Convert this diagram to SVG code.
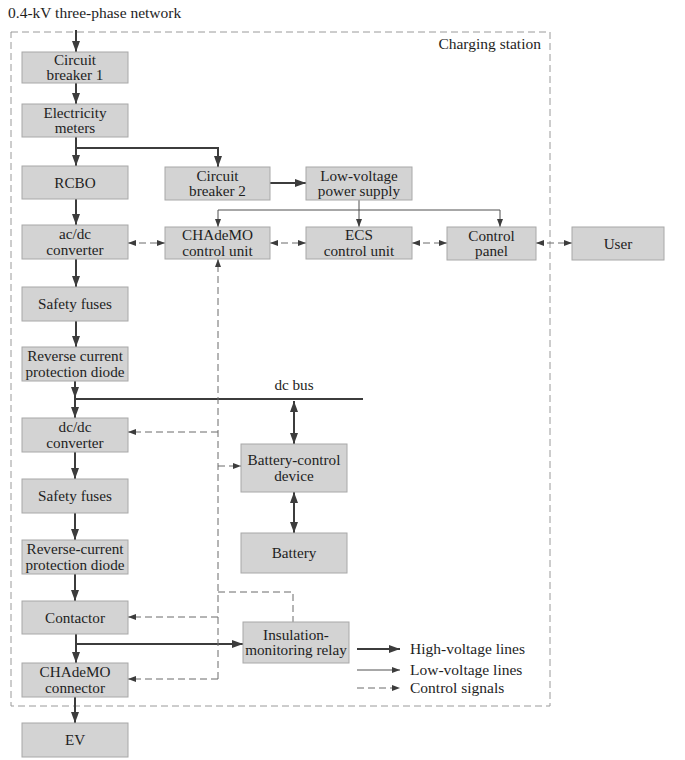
<svg xmlns="http://www.w3.org/2000/svg" width="685" height="760" viewBox="0 0 685 760">
<style>
.box{fill:#d3d3d3;stroke:#a8a8a8;stroke-width:1}
.t{font-family:"Liberation Serif","Times New Roman",serif;font-size:15.2px;fill:#1e1e1e;text-anchor:middle}
.tl{font-family:"Liberation Serif","Times New Roman",serif;font-size:15.5px;fill:#1e1e1e}
.hv{stroke:#3c3c3c;stroke-width:2;fill:none}
.hva{stroke:#3c3c3c;stroke-width:2;fill:none;marker-end:url(#ah)}
.hvb{stroke:#3c3c3c;stroke-width:2;fill:none;marker-end:url(#ah);marker-start:url(#ah)}
.lv{stroke:#505050;stroke-width:1;fill:none}
.lva{stroke:#505050;stroke-width:1;fill:none;marker-end:url(#as)}
.cs{stroke:#6a6a6a;stroke-width:1;fill:none;stroke-dasharray:7,4}
.csa{stroke:#6a6a6a;stroke-width:1;fill:none;stroke-dasharray:7,4;marker-end:url(#as)}
.csb{stroke:#6a6a6a;stroke-width:1;fill:none;stroke-dasharray:7,4;marker-end:url(#as);marker-start:url(#as)}
</style>
<defs>
<marker id="ah" markerUnits="userSpaceOnUse" markerWidth="11" markerHeight="8" refX="11" refY="4" orient="auto-start-reverse"><path d="M0,0 L11,4 L0,8 z" fill="#3c3c3c"/></marker>
<marker id="as" markerUnits="userSpaceOnUse" markerWidth="8" markerHeight="6" refX="8" refY="3" orient="auto-start-reverse"><path d="M0,0 L8,3 L0,6 z" fill="#3c3c3c"/></marker>
</defs>
<rect width="685" height="760" fill="#ffffff"/>
<text class="tl" x="8" y="18">0.4-kV three-phase network</text>
<g id="station">
<rect x="11" y="32" width="539" height="674" fill="none" stroke="#9a9a9a" stroke-width="1" stroke-dasharray="7,4"/>
<text class="tl" x="541" y="49" text-anchor="end">Charging station</text>
</g>
<g id="connectors">
<line class="hva" x1="76" y1="30" x2="76" y2="52"/>
<line class="hva" x1="76" y1="83" x2="76" y2="104"/>
<line class="hva" x1="76" y1="137" x2="76" y2="166"/>
<polyline class="hva" points="76,148 218,148 218,167"/>
<line class="hva" x1="76" y1="199" x2="76" y2="225"/>
<line class="hva" x1="76" y1="259" x2="76" y2="287"/>
<line class="hva" x1="76" y1="321" x2="76" y2="347"/>
<line class="hva" x1="75" y1="381" x2="75" y2="398"/>
<line class="hv" x1="74" y1="399" x2="363" y2="399" stroke-width="3"/>
<line class="hva" x1="75" y1="400" x2="75" y2="418"/>
<line class="hva" x1="75" y1="452" x2="75" y2="479"/>
<line class="hva" x1="75" y1="513" x2="75" y2="540"/>
<line class="hva" x1="75" y1="574" x2="75" y2="601"/>
<line class="hva" x1="76" y1="634" x2="76" y2="663"/>
<line class="hva" x1="76" y1="644" x2="243" y2="644"/>
<line class="hva" x1="75" y1="697" x2="75" y2="723"/>
<line class="hva" x1="270" y1="183" x2="306" y2="183"/>
<line class="hvb" x1="294" y1="401" x2="294" y2="444"/>
<line class="hvb" x1="294" y1="492" x2="294" y2="533"/>
<line class="lva" x1="359" y1="200" x2="359" y2="227"/>
<polyline class="lva" points="359,210 218,210 218,227"/>
<polyline class="lva" points="359,210 500,210 500,227"/>
<line class="csb" x1="128" y1="243" x2="165" y2="243"/>
<line class="csb" x1="270" y1="243" x2="306" y2="243"/>
<line class="csb" x1="412" y1="243" x2="447" y2="243"/>
<line class="csb" x1="536" y1="243" x2="572" y2="243"/>
<line class="csa" x1="218" y1="679" x2="218" y2="259"/>
<line class="csa" x1="218" y1="432" x2="128" y2="432"/>
<line class="csa" x1="218" y1="466" x2="241" y2="466"/>
<line class="csa" x1="218" y1="617" x2="128" y2="617"/>
<line class="csa" x1="218" y1="679" x2="128" y2="679"/>
<polyline class="cs" points="218,592 293,592 293,622"/>
</g>
<g id="cb1"><rect class="box" x="22" y="52" width="106" height="31"/><text class="t" x="75" y="64.9">Circuit</text><text class="t" x="75" y="80.4">breaker 1</text></g>
<g id="meters"><rect class="box" x="22" y="104" width="106" height="33"/><text class="t" x="75" y="117.9">Electricity</text><text class="t" x="75" y="133.4">meters</text></g>
<g id="rcbo"><rect class="box" x="22" y="166" width="106" height="33"/><text class="t" x="75" y="187.5">RCBO</text></g>
<g id="acdc"><rect class="box" x="22" y="225" width="106" height="34"/><text class="t" x="75" y="239.4">ac/dc</text><text class="t" x="75" y="254.9">converter</text></g>
<g id="fuses1"><rect class="box" x="22" y="287" width="106" height="34"/><text class="t" x="75" y="309">Safety fuses</text></g>
<g id="diode1"><rect class="box" x="22" y="347" width="106" height="34"/><text class="t" x="75" y="361.4">Reverse current</text><text class="t" x="75" y="376.9">protection diode</text></g>
<g id="dcdc"><rect class="box" x="22" y="418" width="106" height="34"/><text class="t" x="75" y="432.4">dc/dc</text><text class="t" x="75" y="447.9">converter</text></g>
<g id="fuses2"><rect class="box" x="22" y="479" width="106" height="34"/><text class="t" x="75" y="501">Safety fuses</text></g>
<g id="diode2"><rect class="box" x="22" y="540" width="106" height="34"/><text class="t" x="75" y="554.4">Reverse-current</text><text class="t" x="75" y="569.9">protection diode</text></g>
<g id="contactor"><rect class="box" x="22" y="601" width="106" height="33"/><text class="t" x="75" y="622.5">Contactor</text></g>
<g id="connector"><rect class="box" x="22" y="663" width="106" height="34"/><text class="t" x="75" y="677.4">CHAdeMO</text><text class="t" x="75" y="692.9">connector</text></g>
<g id="ev"><rect class="box" x="22" y="723" width="106" height="34"/><text class="t" x="75" y="745">EV</text></g>
<g id="cb2"><rect class="box" x="165" y="167" width="105" height="33"/><text class="t" x="217.5" y="180.9">Circuit</text><text class="t" x="217.5" y="196.4">breaker 2</text></g>
<g id="lvps"><rect class="box" x="306" y="167" width="106" height="33"/><text class="t" x="359" y="180.9">Low-voltage</text><text class="t" x="359" y="196.4">power supply</text></g>
<g id="chademo"><rect class="box" x="165" y="227" width="105" height="32"/><text class="t" x="217.5" y="240.4">CHAdeMO</text><text class="t" x="217.5" y="255.9">control unit</text></g>
<g id="ecs"><rect class="box" x="306" y="227" width="106" height="32"/><text class="t" x="359" y="240.4">ECS</text><text class="t" x="359" y="255.9">control unit</text></g>
<g id="panel"><rect class="box" x="447" y="227" width="89" height="33"/><text class="t" x="491.5" y="240.9">Control</text><text class="t" x="491.5" y="256.4">panel</text></g>
<g id="user"><rect class="box" x="572" y="227" width="92" height="33"/><text class="t" x="618" y="248.5">User</text></g>
<g id="dcbus"><text class="t" x="294" y="390">dc bus</text></g>
<g id="bcd"><rect class="box" x="241" y="444" width="106" height="48"/><text class="t" x="294" y="465.4">Battery-control</text><text class="t" x="294" y="480.9">device</text></g>
<g id="battery"><rect class="box" x="241" y="533" width="106" height="40"/><text class="t" x="294" y="558">Battery</text></g>
<g id="imr"><rect class="box" x="243" y="622" width="106" height="41"/><text class="t" x="296" y="639.9">Insulation-</text><text class="t" x="296" y="655.4">monitoring relay</text></g>
<g id="legend">
<line class="hva" x1="357" y1="649" x2="400" y2="649"/>
<text class="tl" x="410" y="654">High-voltage lines</text>
<line class="lva" x1="357" y1="670" x2="400" y2="670"/>
<text class="tl" x="410" y="675">Low-voltage lines</text>
<line class="csa" x1="357" y1="688" x2="400" y2="688"/>
<text class="tl" x="410" y="693">Control signals</text>
</g>
</svg>
